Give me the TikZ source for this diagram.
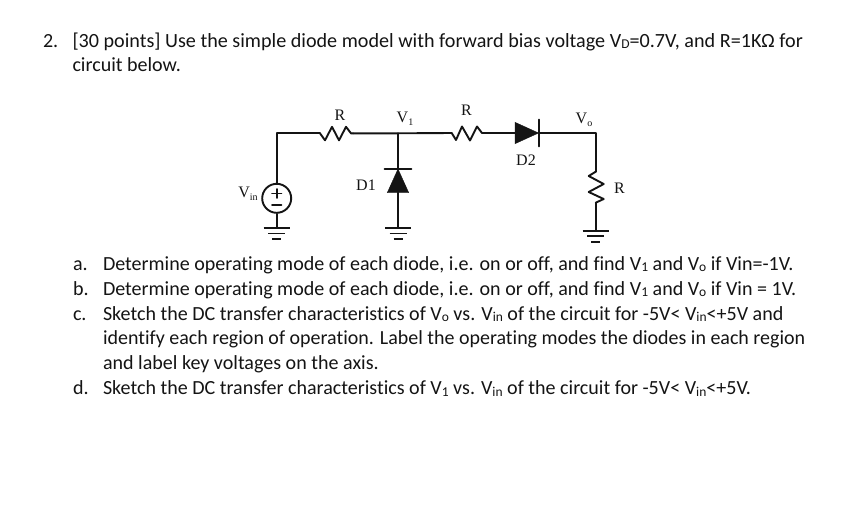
\documentclass[tikz,border=0pt]{standalone}
\usepackage{fontspec}
\setmainfont[RawFeature={-liga}]{Carlito}
\newfontfamily\cirfont{Liberation Serif}
\newcommand\dn[1]{\raisebox{-.2ex}{\fontsize{13.5}{14}\selectfont #1}}
\newcommand\cdn[1]{\raisebox{-.35ex}{\fontsize{10}{10}\selectfont #1}}
\definecolor{ink}{HTML}{141414}
\tikzset{
  txt/.style={anchor=base west,inner sep=0pt,outer sep=0pt,text=ink,font=\fontsize{20.05}{22}\selectfont},
  txtw/.style={txt,font=\fontsize{20.14}{22}\selectfont},
  txtn/.style={txt,font=\fontsize{19.98}{22}\selectfont},
  cir/.style={inner sep=0pt,outer sep=0pt,text=ink,font=\cirfont\fontsize{16}{16}\selectfont},
  wire/.style={draw=ink,line width=1.9pt,line cap=round,line join=round},
  gline/.style={draw=ink,line width=1.9pt},
  diodefill/.style={fill=ink,draw=ink,line width=.4pt,line join=miter}
}
\newcommand\gnd[1]{%
  \draw[gline] ($(#1)+(-13,0)$) -- ($(#1)+(13,0)$);
  \draw[gline] ($(#1)+(-8.5,5.5)$) -- ($(#1)+(8.5,5.5)$);
  \draw[gline] ($(#1)+(-4.5,11)$) -- ($(#1)+(4.5,11)$);
}
\usetikzlibrary{calc}
\begin{document}
\begin{tikzpicture}[x=1pt,y=-1pt]
\useasboundingbox[fill=white] (0,0) rectangle (861,528);
% text
\node[txt] (n2) at (43,47) {2.};
\node[txtw] (l1) at (72.5,47) {[30 points] Use the simple diode model with forward bias voltage V\dn{D}=0.7V, and R=1KΩ for};
\node[txt] (l2) at (72.5,71) {circuit below.};
\node[txt] (ma) at (73,270) {a.};
\node[txt] (la) at (103,270) {Determine operating mode of each diode, i.e. on or off, and find V\dn{1} and V\dn{o} if Vin=-1V.};
\node[txt] (mb) at (73,295) {b.};
\node[txt] (lb) at (103,295) {Determine operating mode of each diode, i.e. on or off, and find V\dn{1} and V\dn{o} if Vin = 1V.};
\node[txt] (mc) at (73,320) {c.};
\node[txt] (lc) at (103,320) {Sketch the DC transfer characteristics of V\dn{o} vs. V\dn{in} of the circuit for -5V< V\dn{in}<+5V and};
\node[txtn] (lc2) at (103,344.5) {identify each region of operation. Label the operating modes the diodes in each region};
\node[txt] (lc3) at (103,369.5) {and label key voltages on the axis.};
\node[txt] (md) at (73,394.5) {d.};
\node[txt] (ld) at (103,394.5) {Sketch the DC transfer characteristics of V\dn{1} vs. V\dn{in} of the circuit for -5V< V\dn{in}<+5V.};
% circuit coordinates
\coordinate (cA) at (276.7,133.3);
\coordinate (r1a) at (320,133.3);
\coordinate (r1b) at (353,133.3);
\coordinate (v1) at (398,133.3);
\coordinate (r2a) at (451.7,133);
\coordinate (r2b) at (483,133);
\coordinate (d2a) at (515,133);
\coordinate (d2b) at (538.5,133);
\coordinate (cB) at (595.7,133);
\coordinate (r3a) at (595.7,171.7);
\coordinate (r3b) at (595.7,202.7);
\coordinate (g1) at (276.7,228);
\coordinate (g2) at (398,228);
\coordinate (g3) at (595.7,230.7);
\coordinate (d1k) at (398,169);
\coordinate (d1a) at (398,192.7);
\node[circle,draw=ink,line width=1.9pt,minimum size=29pt,inner sep=0pt] (src) at (276.7,198.3) {};
\draw[wire] (272,193.5) -- (281.5,193.5) (276.7,189) -- (276.7,198);
\draw[wire] (272,205) -- (281.5,205);
% wires
\draw[wire] (src.north) -- (cA) -- (r1a);
\draw[wire] (r1a) -- (325,133.3+7) -- (332,133.3-6.5) -- (339,133.3+7) -- (346,133.3-6.5) -- (351,133.3) -- (r1b);
\draw[wire] (r1b) -- (v1) -- (r2a);
\draw[wire] (r2a) -- (456,133+7) -- (462,133-6.5) -- (470,133+7.5) -- (477,133-6.5) -- (482,133) -- (r2b);
\draw[wire] (r2b) -- (d2a);
\draw[wire] (d2b) -- (cB) -- (r3a);
\draw[wire] (r3a) -- (595.7-7,176) -- (595.7+8,184) -- (595.7-7,192) -- (595.7+8,199) -- (r3b);
\draw[wire] (r3b) -- (g3);
\draw[wire] (v1) -- (d1k);
\draw[wire] (d1a) -- (g2);
\draw[wire] (src.south) -- (g1);
% diodes
\draw[diodefill] (d1a) ++(-10.7,0) -- ++(21.4,0) -- (d1k) -- cycle;
\draw[wire] ($(d1k)+(-13.5,0)$) -- ($(d1k)+(13.5,0)$);
\draw[diodefill] (d2a) ++(0,-10.7) -- ++(0,21.4) -- (d2b) -- cycle;
\draw[wire] ($(d2b)+(0.5,-13.5)$) -- ($(d2b)+(0.5,13.5)$);
\gnd{g1}
\gnd{g2}
\gnd{g3}
% labels
\node[cir] (tR1) at (340,115) {R};
\node[cir] (tV1) at (405,119) {V\cdn{1}};
\node[cir] (tR2) at (466.5,110) {R};
\node[cir] (tVo) at (584,120) {V\cdn{o}};
\node[cir] (tD2) at (526,160) {D2};
\node[cir] (tD1) at (366,185) {D1};
\node[cir] (tR3) at (619.5,188.5) {R};
\node[cir] (tVin) at (248,194) {V\cdn{in}};
\end{tikzpicture}
\end{document}
